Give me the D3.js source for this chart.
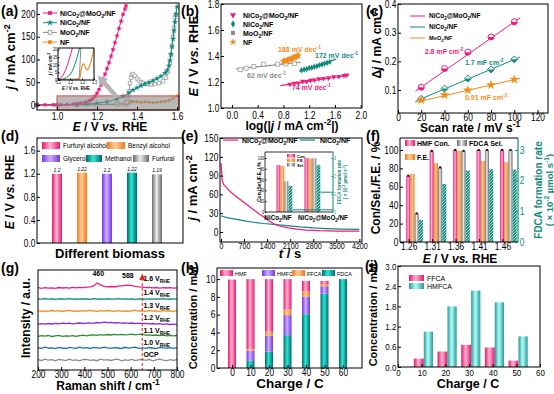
<!DOCTYPE html>
<html><head><meta charset="utf-8">
<script src="https://cdn.jsdelivr.net/npm/d3@7"></script>
<style>
body{margin:0;background:#fff}
svg{display:block;font-family:"Liberation Sans",Arial,sans-serif}
.tk{font-family:"Liberation Sans",Arial,sans-serif;font-size:10px}
</style></head><body>
<script>
// ---------- data ----------
// (a) LSV curves [E, j]
const aPink=[[0.90,0.3],[0.94,0.3],[0.98,0.4],[1.02,0.6],[1.05,1],[1.08,2],[1.10,3],[1.12,4.5],[1.14,6],[1.16,9],[1.17,11],[1.18,14],[1.19,19],[1.20,26],[1.21,34],[1.22,44],[1.23,56],[1.24,68],[1.25,80],[1.26,93],[1.27,107],[1.28,122],[1.29,137],[1.30,152],[1.31,168],[1.32,184],[1.33,199],[1.34,211],[1.345,218]]
const aTeal=[[0.90,0],[1.0,0.3],[1.1,1],[1.15,2],[1.2,4],[1.25,7],[1.3,13],[1.33,19],[1.36,27],[1.38,33],[1.40,38],[1.42,42],[1.44,46],[1.46,50],[1.48,54],[1.50,58],[1.52,63],[1.54,70],[1.55,76],[1.56,86],[1.565,98],[1.57,112],[1.575,128],[1.58,145],[1.585,163],[1.59,182],[1.595,200],[1.6,216]]
const aGrey=[[0.9,0],[1.0,0],[1.1,0.5],[1.2,1],[1.3,2],[1.34,3],[1.35,6],[1.355,14],[1.36,30],[1.365,48],[1.37,60],[1.375,66],[1.38,68],[1.39,64],[1.40,58],[1.41,54],[1.42,50],[1.43,48],[1.45,46],[1.47,45],[1.49,46],[1.51,48],[1.53,52],[1.545,60],[1.555,72],[1.565,92],[1.57,110],[1.575,130],[1.58,150],[1.585,170],[1.59,192],[1.595,198]]
const aOrange=[[0.9,0],[1.0,0],[1.2,0.5],[1.3,1],[1.35,2],[1.36,4],[1.37,7],[1.38,8],[1.40,7],[1.42,6],[1.44,7],[1.46,6],[1.48,5],[1.50,6],[1.52,7],[1.54,8],[1.56,10],[1.58,14],[1.6,20]]
const aNames=["NiCo_{2}@MoO_{2}/NF","NiCo_{2}/NF","MoO_{2}/NF","NF"]
// (a) inset
const aiPink=[[1.200,0.5],[1.204,1],[1.208,3],[1.212,6],[1.216,10],[1.219,14],[1.222,18],[1.224,21]]
const aiTeal=[[1.200,0.3],[1.208,0.6],[1.214,1.5],[1.219,3],[1.224,6],[1.228,10],[1.232,15],[1.236,21]]
const aiGrey=[[1.200,0.3],[1.23,0.6],[1.235,1],[1.236,5],[1.237,12],[1.238,21]]
const aiOrange=[[1.200,0.2],[1.235,0.3],[1.237,2],[1.238,6],[1.240,9],[1.242,10.7],[1.244,10],[1.246,8],[1.248,6.7],[1.250,7],[1.252,8.5],[1.255,12],[1.258,17],[1.26,21]]

// (b) Tafel [log j, E]
const bPink=[[0.9,1.183],[0.97,1.190],[1.03,1.193],[1.1,1.205],[1.16,1.204],[1.22,1.214],[1.28,1.216],[1.35,1.225],[1.42,1.227],[1.5,1.232],[1.58,1.24],[1.66,1.243],[1.74,1.25],[1.78,1.253]]
const bTeal=[[1.08,1.29],[1.12,1.296],[1.16,1.30],[1.2,1.308],[1.24,1.31],[1.28,1.318],[1.32,1.322],[1.36,1.33],[1.4,1.334],[1.44,1.342],[1.48,1.348],[1.52,1.355]]
const bGrey=[[0.13,1.295],[0.22,1.306],[0.34,1.319],[0.49,1.337],[0.71,1.337],[0.84,1.34],[0.97,1.342]]
const bOrange=[[0.80,1.36],[0.82,1.364],[0.84,1.362],[0.86,1.37],[0.88,1.372],[0.9,1.375],[0.92,1.38],[0.94,1.382],[0.96,1.388],[0.98,1.392],[1.0,1.396],[1.02,1.402],[1.03,1.405]]
const bFits=[[[0.75,1.172],[1.82,1.252]],[[1.04,1.283],[1.62,1.376]],[[0.06,1.3],[1.07,1.352]],[[0.78,1.355],[1.05,1.406]]]
const bSlopes=["74 mV dec^{-1}","172 mV dec^{-1}","62 mV dec^{-1}","188 mV dec^{-1}"]
const bSlopePos=[[0.93,1.138],[1.29,1.385],[0.234,1.231],[0.715,1.431]]

// (c) Cdl
const cScan=[20,40,60,80,100]
const cPink=[0.11,0.175,0.232,0.285,0.338]
const cTeal=[0.07,0.105,0.14,0.172,0.207]
const cOrange=[0.065,0.083,0.10,0.118,0.137]
const cFits=[[[15,0.096],[105,0.352]],[[15,0.061],[105,0.215]],[[15,0.057],[105,0.141]]]
const cCdl=["2.8 mF cm^{-2}","1.7 mF cm^{-2}","0.91 mF cm^{-2}"]
const cCdlPos=[[23,0.226],[57.6,0.187],[57.6,0.065]]

// (d) biomass
const dNames=["Furfuryl alcohol","Benzyl alcohol","Glycerol","Methanol","Furfural"]
const dVals=[1.2,1.22,1.2,1.22,1.19]
const dLabels=["1.2","1.22","1.2","1.22","1.19"]

// (e) i-t
const ePink=[[0,110],[15,100],[40,82],[80,76],[150,72],[250,66],[400,59],[550,53],[700,47],[850,41],[1000,35],[1150,29],[1300,24],[1450,18],[1600,13],[1750,10],[1900,8],[2100,6],[2300,4.5],[2600,3],[3000,2],[3500,1.5],[4200,1.2]]
const eTeal=[[0,26],[100,24],[250,22],[400,21],[600,19],[800,17],[1000,15.5],[1300,13.5],[1600,12],[2000,10],[2400,8],[2800,6.5],[3200,5.5],[3700,4.5],[4200,4]]
const eCats=["NiCo_{2}/NF","NiCo_{2}@MoO_{2}/NF"]
const eCon=[87,100], eFE=[85,99], eSel=[57,99.5], eRate=[1.45,2.6]

// (f) potentials
const fCats=["1.26","1.31","1.36","1.41","1.46"]
const fCon=[72,99,100,100,100]
const fFE=[74,86,99,88,87]
const fSel=[31,81,99,100,100]
const fRate=[0.72,1.89,2.33,2.37,2.36]

// (g) Raman
const gX=[200,215,230,245,260,275,290,305,320,335,350,365,380,395,410,425,440,455,470,485,500,515,530,545,560,575,590,605,620,635,650,665,680,695,710,725,740,755,770,785,800]
const gOCP=[10.3,9.5,10.8,9.8,10.4,9.1,10.6,10.1,9.4,10.9,9.7,10.2,9.2,10.5,10.7,9.6,10.1,9.3,10.9,9.8,10.4,9.5,10.3,10.8,9.1,10.2,9.7,10.6,9.4,10.1,10.7,9.6,10.5,9.2,10.2,10.9,9.9,9.4,10.4,9.7,10.5]
const g10=[22.4,21.6,22.9,21.9,22.2,21.4,22.7,22.0,21.5,22.6,22.1,21.7,22.8,21.9,22.3,21.5,22.6,22.2,21.8,22.9,22.1,21.6,22.4,22.0,21.5,22.7,21.9,22.3,22.8,21.7,22.2,21.6,22.5,22.0,21.4,22.6,22.1,21.8,22.4,21.7,22.3]
const g11=[33.6,34.3,33.8,34.5,33.5,34.1,34.6,33.7,34.2,33.9,34.4,33.6,34.3,34.8,34.1,34.9,35.2,34.6,35.4,34.9,35.5,35.0,35.6,35.1,35.7,35.2,35.4,35.9,35.1,35.6,35.8,34.9,35.2,34.6,35.0,34.4,34.8,34.2,34.7,34.1,34.5]
const g12=[45.6,46.3,45.8,46.5,46.0,46.7,46.2,46.9,46.4,46.8,46.1,46.6,47.0,46.5,46.9,47.2,46.7,47.5,47.1,47.8,47.3,47.6,47.0,47.4,46.8,47.2,46.6,47.0,46.4,46.9,46.3,46.7,46.1,46.5,45.9,46.3,45.7,46.1,45.5,45.9,45.4]
const g13=[59.4,58.7,59.2,58.6,59.5,58.9,59.3,58.5,59.1,59.6,58.8,59.2,58.6,59.4,58.9,59.7,59.0,58.7,59.3,58.8,59.5,59.1,58.6,59.4,58.9,59.2,58.5,59.3,59.7,58.8,59.1,58.6,59.5,58.9,59.2,58.7,59.4,58.8,59.1,58.6,59.3]
const g14=[71.2,70.8,71.3,70.9,71.1,70.7,71.2,71.0,70.8,71.3,70.9,71.1,70.8,71.2,71.0,70.7,71.3,70.9,71.1,70.8,71.2,71.0,70.9,71.3,70.8,71.1,70.9,71.2,70.7,71.1,71.0,70.8,71.2,70.9,71.1,70.8,71.3,70.9,71.0,70.8,71.1]
const g16=[82.3,81.7,82.4,81.9,82.2,81.6,82.5,82.0,82.4,81.8,82.6,82.2,82.7,82.3,82.9,83.2,84.0,87.0,85.2,83.6,83.1,83.5,83.0,83.8,84.2,84.6,84.9,84.3,83.7,83.2,82.8,82.4,82.7,82.1,82.5,81.9,82.4,82.0,82.3,81.8,82.2]
const gLabels=["1.6 V_{RHE}","1.4 V_{RHE}","1.3 V_{RHE}","1.2 V_{RHE}","1.1 V_{RHE}","1.0 V_{RHE}","OCP"]
const gLabelPos=[89,75,62,50,37,25,13]

// (h) product distribution
const hCharge=[0,10,20,30,40,50,60]
const hFDCA=[0,0.8,1.85,3.7,6.05,8.35,10]
const hHMFCA=[0,1.15,1.8,2.25,2.0,0.85,0]
const hFFCA=[0,0.2,0.45,0.65,0.57,0.25,0]
const hHMF=[9.95,7.85,5.9,3.4,1.18,0.35,0]

// (i) intermediates
const iCharge=[10,20,30,40,50]
const iFFCA=[0.25,0.46,0.66,0.58,0.19]
const iHMFCA=[1.05,1.8,2.27,1.92,0.91]

// ---------- helpers ----------
const PINK="#f2197f",TEAL="#138a80",GREY="#8c8c8c",ORANGE="#f28c1c"
const svg=d3.select("body").append("svg").attr("width",554).attr("height",394)
const defs=svg.append("defs")

function grad(id,edge,mid){
const g=defs.append("linearGradient").attr("id",id).attr("x1","0%").attr("x2","100%")
g.append("stop").attr("offset","0%").attr("stop-color",edge)
g.append("stop").attr("offset","45%").attr("stop-color",mid)
g.append("stop").attr("offset","100%").attr("stop-color",edge)
}
grad("gPink","#e2196e","#ffb3d3")
grad("gOrange","#f07a20","#ffcf98")
grad("gPurple","#7436e0","#cdb0ff")
grad("gTeal","#006a68","#2ee6d6")
grad("gGrey","#6a6a6a","#ececec")
grad("gCyan","#2a9a98","#b0fff8")
const hp=defs.append("pattern").attr("id","hatch").attr("patternUnits","userSpaceOnUse").attr("width",3).attr("height",3)
hp.append("rect").attr("width",3).attr("height",3).attr("fill","#12907f")
hp.append("path").attr("d","M0,3L3,0M-1,1L1,-1M2,4L4,2").attr("stroke","#e8fffc").attr("stroke-width",0.7)

function clip(id,x,y){
defs.append("clipPath").attr("id",id).append("rect")
.attr("x",x.range()[0]).attr("y",y.range()[1])
.attr("width",x.range()[1]-x.range()[0]).attr("height",y.range()[0]-y.range()[1])
}

function rich(sel,str,fs){
const parts=str.split(/(_\{[^}]*\}|\^\{[^}]*\}|\*[^*]*\*)/).filter(s=>s.length)
let shift=0
parts.forEach(p=>{
let t=p,want=0,small=false,it=false
if(p.startsWith("_{")){t=p.slice(2,-1);want=0.3*fs;small=true}
else if(p.startsWith("^{")){t=p.slice(2,-1);want=-0.4*fs;small=true}
else if(p.length>1&&p[0]=="*"&&p[p.length-1]=="*"){t=p.slice(1,-1);it=true}
const ts=sel.append("tspan").text(t)
if(want!=shift)ts.attr("dy",want-shift)
shift=want
if(small)ts.attr("font-size",fs*0.7)
if(it)ts.attr("font-style","italic")
})
}

function txt(x,y,str,o){
o=o||{}
const fs=o.fs||12
const t=svg.append("text").attr("x",x).attr("y",y)
.style("font-size",fs+"px").attr("font-weight",o.w||"bold")
.attr("fill",o.c||"#000").attr("text-anchor",o.a||"start")
if(o.rot)t.attr("transform","rotate(-90,"+x+","+y+")")
if(o.it)t.attr("font-style","italic")
rich(t,str,fs)
return t
}

function box(x,y,col){
svg.append("rect").attr("x",x.range()[0]).attr("y",y.range()[1])
.attr("width",x.range()[1]-x.range()[0]).attr("height",y.range()[0]-y.range()[1])
.attr("fill","none").attr("stroke",col||"#000").attr("stroke-width",1)
}

// ticks point inward like the source; tick labels are tall and narrow
function narrow(g,fs){
g.selectAll("text").attr("transform","scale(0.84,1)")
if(fs)g.selectAll("text").style("font-size",fs+"px")
}
function axB(x,yPix,vals,fmt,fs,pad,ts){
const g=svg.append("g").attr("class","tk").attr("transform","translate(0,"+yPix+")")
.call(d3.axisBottom(x).tickValues(vals).tickFormat(fmt).tickSize(-(ts||3)).tickPadding(pad==null?2:pad))
g.select(".domain").remove()
narrow(g,fs)
return g
}
function axL(y,xPix,vals,fmt,fs,pad,ts){
const g=svg.append("g").attr("class","tk").attr("transform","translate("+xPix+",0)")
.call(d3.axisLeft(y).tickValues(vals).tickFormat(fmt).tickSize(-(ts||3)).tickPadding(pad==null?2:pad))
g.select(".domain").remove()
narrow(g,fs)
return g
}
function axR(y,xPix,vals,fmt,fs,col,pad,ts){
const g=svg.append("g").attr("class","tk").attr("transform","translate("+xPix+",0)")
.call(d3.axisRight(y).tickValues(vals).tickFormat(fmt).tickSize(-(ts||3)).tickPadding(pad==null?2:pad))
g.select(".domain").remove()
narrow(g,fs)
if(col){g.selectAll("text").attr("fill",col);g.selectAll("line").attr("stroke",col)}
return g
}

function line(x,y,data,col,w,cp){
const p=svg.append("path").datum(data).attr("fill","none").attr("stroke",col).attr("stroke-width",w||1)
.attr("d",d3.line().x(d=>x(d[0])).y(d=>y(d[1])))
if(cp)p.attr("clip-path","url(#"+cp+")")
return p
}
function pts(x,y,data,col,type,size,open,rot){
svg.append("g").selectAll("path").data(data).join("path")
.attr("transform",d=>"translate("+x(d[0])+","+y(d[1])+")"+(rot?" rotate("+rot+")":""))
.attr("d",d3.symbol().type(type).size(size))
.attr("fill",open?"#fff":col).attr("stroke",col).attr("stroke-width",open?0.7:0)
}

// ---------- (a) ----------
const xa=d3.scaleLinear().domain([0.9,1.61]).range([37,179])
const ya=d3.scaleLinear().domain([-11,224]).range([110,3])
clip("ca",xa,ya)
line(xa,ya,aOrange,ORANGE,1,"ca");pts(xa,ya,aOrange,ORANGE,d3.symbolSquare,7)
line(xa,ya,aGrey,GREY,1,"ca");pts(xa,ya,aGrey,GREY,d3.symbolSquare,12,true)
line(xa,ya,aTeal,TEAL,1,"ca");pts(xa,ya,aTeal,TEAL,d3.symbolStar,12)
line(xa,ya,aPink,PINK,1,"ca");pts(xa,ya,aPink,PINK,d3.symbolSquare,10)
svg.append("rect").attr("x",xa(1.0)).attr("y",ya(20)).attr("width",xa(1.61)-xa(1.0)).attr("height",ya(-11)-ya(20))
.attr("fill","#8a8a8a").attr("fill-opacity",0.6).attr("stroke","#e04848").attr("stroke-width",1)
// arrow to inset
{
const x1=xa(1.30),y1=ya(17),x2=xa(1.205),y2=ya(64)
const ang=Math.atan2(y2-y1,x2-x1)*180/Math.PI
const L=Math.hypot(x2-x1,y2-y1)
svg.append("path").attr("transform","translate("+x1+","+y1+") rotate("+ang+")")
.attr("d","M0,-2.2L"+(L-9)+",-2.2L"+(L-9)+",-5.5L"+L+",0L"+(L-9)+",5.5L"+(L-9)+",2.2L0,2.2Z")
.attr("fill","#b4b4b4")
}
box(xa,ya)
axB(xa,110,[1.0,1.2,1.4,1.6],d3.format(".1f"),10,3)
axL(ya,37,[0,50,100,150,200],d3.format("d"))
aNames.forEach((n,i)=>{
const cy=13+i*9.7,cols=[PINK,TEAL,GREY,ORANGE]
svg.append("line").attr("x1",43).attr("x2",57).attr("y1",cy).attr("y2",cy).attr("stroke",cols[i])
const ty=[d3.symbolSquare,d3.symbolStar,d3.symbolSquare,d3.symbolSquare][i]
svg.append("path").attr("transform","translate(50,"+cy+")").attr("d",d3.symbol().type(ty).size(14))
.attr("fill",i==2?"#fff":cols[i]).attr("stroke",cols[i]).attr("stroke-width",i==2?0.8:0)
txt(60,cy+2.5,n,{fs:7})
})
// inset
const xai=d3.scaleLinear().domain([1.2,1.26]).range([58,94])
const yai=d3.scaleLinear().domain([0,21]).range([80,48])
svg.append("rect").attr("x",58).attr("y",48).attr("width",36).attr("height",32).attr("fill","#fff")
clip("cai",xai,yai)
line(xai,yai,aiGrey,GREY,1,"cai")
line(xai,yai,aiOrange,ORANGE,1.1,"cai")
line(xai,yai,aiTeal,TEAL,1,"cai")
line(xai,yai,aiPink,PINK,1,"cai")
box(xai,yai)
axB(xai,80,[1.2,1.22,1.24,1.26],d3.format(".1f"),4.5,1,1.5)
axL(yai,58,[0,5,10,15,20],d3.format("d"),4.5,1,1.5)
txt(76,90,"*E* / V *vs.* RHE",{fs:4.5,a:"middle"})
txt(52,64,"*j* / mA cm^{-2}",{fs:4.5,a:"middle",rot:true})
txt(1,16,"(a)",{fs:14})
txt(110,131,"*E* / V *vs.* RHE",{fs:12,a:"middle"})
txt(15,57,"*j* / mA cm^{-2}",{fs:13,a:"middle",rot:true})

// ---------- (b) ----------
const xb=d3.scaleLinear().domain([-0.17,2.02]).range([221,362])
const yb=d3.scaleLinear().domain([1.0,1.8]).range([108,4])
const bCols=[PINK,TEAL,GREY,ORANGE]
bFits.forEach((f,i)=>line(xb,yb,f,bCols[i],1.2))
pts(xb,yb,bGrey,GREY,d3.symbolSquare,16,true)
pts(xb,yb,bOrange,ORANGE,d3.symbolStar,18)
pts(xb,yb,bTeal,TEAL,d3.symbolDiamond,12)
pts(xb,yb,bPink,PINK,d3.symbolTriangle,12,false,180)
bSlopes.forEach((s,i)=>txt(xb(bSlopePos[i][0]),yb(bSlopePos[i][1]),s,{fs:7,c:bCols[i]}))
box(xb,yb)
axB(xb,108,[0,0.4,0.8,1.2,1.6,2.0],d3.format(".1f"),10,4)
axL(yb,221,[1.0,1.2,1.4,1.6,1.8],d3.format(".1f"))
aNames.forEach((n,i)=>{
const cy=15+i*9
const ty=[d3.symbolTriangle,d3.symbolDiamond,d3.symbolSquare,d3.symbolStar][i]
svg.append("path").attr("transform","translate(233,"+cy+")"+(i==0?" rotate(180)":""))
.attr("d",d3.symbol().type(ty).size(16)).attr("fill",bCols[i])
txt(243,cy+2.5,n,{fs:7})
})
txt(181,16,"(b)",{fs:14})
txt(292,130,"log(|*j* / mA cm^{-2}|)",{fs:12,a:"middle"})
txt(198,56,"*E* / V *vs.* RHE",{fs:13,a:"middle",rot:true})

// ---------- (c) ----------
const xc=d3.scaleLinear().domain([0,129]).range([398,548])
const yc=d3.scaleLinear().domain([0.02,0.4]).range([113,4])
const cCols=[PINK,TEAL,ORANGE]
cFits.forEach((f,i)=>line(xc,yc,f,cCols[i],1))
;[cPink,cTeal].forEach((arr,k)=>{
const col=cCols[k]
const g=svg.append("g").selectAll("g").data(cScan.map((s,i)=>[s,arr[i]])).join("g")
.attr("transform",d=>"translate("+xc(d[0])+","+yc(d[1])+")")
if(k==0){
g.append("circle").attr("r",3).attr("fill","#fff").attr("stroke",col).attr("stroke-width",1)
g.append("path").attr("d","M-3,0A3,3 0 0 0 3,0Z").attr("fill",col)
}else{
g.append("path").attr("d","M-3.5,0L0,-3.5L3.5,0L0,3.5Z").attr("fill","#fff").attr("stroke",col).attr("stroke-width",1)
g.append("path").attr("d","M-3.5,0L0,3.5L3.5,0Z").attr("fill",col)
}
})
pts(xc,yc,cScan.map((s,i)=>[s,cOrange[i]]),ORANGE,d3.symbolStar,30)
cCdl.forEach((s,i)=>txt(xc(cCdlPos[i][0]),yc(cCdlPos[i][1]),s,{fs:7,c:cCols[i]}))
box(xc,yc)
axB(xc,113,[0,20,40,60,80,100,120],d3.format("d"),10,1)
axL(yc,398,[0.1,0.2,0.3,0.4],d3.format(".1f"))
aNames.slice(0,3).forEach((n,i)=>{
const cy=16+i*11
svg.append("line").attr("x1",410).attr("x2",425).attr("y1",cy).attr("y2",cy).attr("stroke",cCols[i])
txt(429,cy+2.3,n,{fs:i==2?5.5:6.5})
})
txt(366,16,"(c)",{fs:14})
txt(470,132,"Scan rate / mV s^{-1}",{fs:12,a:"middle"})
txt(381,44,"Δ*j* / mA cm^{-2}",{fs:12,a:"middle",rot:true})

// ---------- (d) ----------
const xd=d3.scalePoint().domain(dNames).range([57,157])
const yd=d3.scaleLinear().domain([0,1.82]).range([243,138])
const dFill=["url(#gPink)","url(#gOrange)","url(#gPurple)","url(#gTeal)","url(#gGrey)"]
svg.append("g").selectAll("rect").data(dNames).join("rect")
.attr("x",d=>xd(d)-5).attr("width",10)
.attr("y",(d,i)=>yd(dVals[i])).attr("height",(d,i)=>yd(0)-yd(dVals[i]))
.attr("fill",(d,i)=>dFill[i])
svg.append("g").selectAll("text").data(dNames).join("text")
.attr("x",d=>xd(d)).attr("y",(d,i)=>yd(dVals[i])-2).attr("text-anchor","middle")
.style("font-size","5px").attr("font-style","italic").text((d,i)=>dLabels[i])
box(d3.scaleLinear().range([37,183]),yd)
axL(yd,37,[0,0.4,0.8,1.2,1.6],d3.format(".1f"))
{
const leg=[[42,0],[107,0],[42,1],[86,1],[133,1]]
dNames.forEach((n,i)=>{
const lx=leg[i][0],ly=142+leg[i][1]*13
svg.append("rect").attr("x",lx).attr("y",ly).attr("width",i>2?16:18).attr("height",7).attr("fill",dFill[i])
txt(lx+(i>2?19:21),ly+6,n,{fs:6.5,w:"normal"})
})
}
txt(1,141,"(d)",{fs:14})
txt(110,258,"Different biomass",{fs:13,a:"middle"})
txt(14,192,"*E* / V *vs.* RHE",{fs:12,a:"middle",rot:true})

// ---------- (e) ----------
const xe=d3.scaleLinear().domain([-30,4280]).range([220,362])
const ye=d3.scaleLinear().domain([-16,150]).range([242,138])
clip("ce",xe,ye)
line(xe,ye,eTeal,TEAL,1.2,"ce")
line(xe,ye,ePink,PINK,1.2,"ce")
box(xe,ye)
axB(xe,242,[0,700,1400,2100,2800,3500,4200],d3.format("d"),8.5,1)
axL(ye,220,[0,30,60,90,120,150],d3.format("d"))
svg.append("line").attr("x1",223).attr("x2",238).attr("y1",140).attr("y2",140).attr("stroke",PINK).attr("stroke-width",1.2)
txt(242,142.5,aNames[0],{fs:7})
svg.append("line").attr("x1",300).attr("x2",315).attr("y1",140).attr("y2",140).attr("stroke",TEAL).attr("stroke-width",1.2)
txt(320,142.5,aNames[1],{fs:7})
// inset
{
const xi=d3.scalePoint().domain(eCats).range([284.5,312.5])
const yi=d3.scaleLinear().domain([0,111]).range([212,152])
const yr=d3.scaleLinear().domain([0,3]).range([212,158])
svg.append("rect").attr("x",265).attr("y",152).attr("width",68).attr("height",60).attr("fill","#fff")
const ser=[[eCon,"url(#gPink)",-6,yi],[eFE,"url(#gOrange)",-2,yi],[eSel,"url(#gGrey)",2,yi],[eRate,"url(#hatch)",6,yr]]
ser.forEach(s=>{
svg.append("g").selectAll("rect").data(eCats).join("rect")
.attr("x",d=>xi(d)+s[2]-2).attr("width",3.8)
.attr("y",(d,i)=>s[3](s[0][i])).attr("height",(d,i)=>s[3](0)-s[3](s[0][i]))
.attr("fill",s[1])
})
svg.append("line").attr("x1",xi(eCats[1])+8).attr("x2",333).attr("y1",yr(1.1)).attr("y2",yr(1.1)).attr("stroke",TEAL)
svg.append("line").attr("x1",xi(eCats[0])+8).attr("x2",333).attr("y1",yr(0.12)).attr("y2",yr(0.12)).attr("stroke",TEAL)
svg.append("path").attr("d","M265,152H333").attr("stroke","#000").attr("stroke-width",0.8)
svg.append("path").attr("d","M265,152V212H333").attr("fill","none").attr("stroke","#000").attr("stroke-width",0.8)
svg.append("line").attr("x1",333).attr("x2",333).attr("y1",152).attr("y2",212).attr("stroke",TEAL).attr("stroke-width",1)
axL(yi,265,[0,20,40,60,80,100],d3.format("d"),4.5,1,1.5)
axR(yr,333,[0,1,2,3],d3.format("d"),4.5,TEAL,1,1.5)
const lg=[["Con.","url(#gPink)"],["F.E.","url(#gOrange)"],["Sel.","url(#gGrey)"]]
lg.forEach((l,i)=>{
svg.append("rect").attr("x",287).attr("y",154+i*4.5).attr("width",8).attr("height",3.5).attr("fill",l[1])
txt(297,157.5+i*4.5,l[0],{fs:4})
})
txt(278,220,eCats[0],{fs:6.3,a:"middle"})
txt(323,220,eCats[1],{fs:6.3,a:"middle"})
txt(261,182,"Con./Sel./F.E. / %",{fs:5,a:"middle",rot:true})
txt(341,182,"FDCA formation rate",{fs:4.5,a:"middle",rot:true,c:TEAL})
txt(347,182,"( × 10^{-2} µmol s^{-1})",{fs:4.5,a:"middle",rot:true,c:TEAL})
}
txt(181,141,"(e)",{fs:14})
txt(290,258,"*t* / s",{fs:13,a:"middle"})
txt(197,188,"*j* / mA cm^{-2}",{fs:13,a:"middle",rot:true})

// ---------- (f) ----------
{
const xf=d3.scalePoint().domain(fCats).range([408.7,502.5])
const yf=d3.scaleLinear().domain([0,113]).range([242,138])
const yfr=d3.scaleLinear().domain([0,3.39]).range([242,138])
const ser=[[fCon,"url(#gPink)",-2.5,yf],[fFE,"url(#gOrange)",1.7,yf],[fSel,"url(#gGrey)",5.9,yf],[fRate,"url(#hatch)",10.1,yfr]]
ser.forEach(s=>{
svg.append("g").selectAll("rect").data(fCats).join("rect")
.attr("x",d=>xf(d)+s[2]).attr("width",4.1)
.attr("y",(d,i)=>s[3](s[0][i])).attr("height",(d,i)=>s[3](0)-s[3](s[0][i]))
.attr("fill",s[1])
})
;[[fCon,-2.5],[fSel,5.9]].forEach(s=>{
svg.append("g").selectAll("rect").data(fCats).join("rect")
.attr("x",d=>xf(d)+s[1]+1).attr("width",2.2)
.attr("y",(d,i)=>yf(s[0][i])-1).attr("height",2).attr("fill","#111")
})
svg.append("path").attr("d","M518,138H400V242H518").attr("fill","none").attr("stroke","#000")
svg.append("line").attr("x1",518).attr("x2",518).attr("y1",138).attr("y2",242).attr("stroke",TEAL).attr("stroke-width",1.2)
axB(xf,242,fCats,d=>d,10,1)
axL(yf,400,[0,20,40,60,80,100],d3.format("d"))
axR(yfr,518,[0,1,2,3],d3.format("d"),10,TEAL)
svg.append("rect").attr("x",405).attr("y",140).attr("width",10).attr("height",6).attr("fill","url(#gPink)")
txt(417,145.5,"HMF Con.",{fs:7})
svg.append("rect").attr("x",457).attr("y",140).attr("width",10).attr("height",6).attr("fill","url(#gGrey)")
txt(469,145.5,"FDCA Sel.",{fs:7})
svg.append("rect").attr("x",405).attr("y",154).attr("width",10).attr("height",6).attr("fill","url(#gOrange)")
txt(417,159.5,"F.E.",{fs:7})
}
txt(366,141,"(f)",{fs:14})
txt(460,263,"*E* / V *vs.* RHE",{fs:12,a:"middle"})
txt(380,188,"Con/Sel./F.E. / %",{fs:12,a:"middle",rot:true})
txt(542,190,"FDCA formation rate",{fs:10,a:"middle",rot:true,c:TEAL})
txt(553,190,"( × 10^{-2} µmol s^{-1})",{fs:9.5,a:"middle",rot:true,c:TEAL})

// ---------- (g) ----------
{
const xg=d3.scaleLinear().domain([200,800]).range([38,177])
const yg=d3.scaleLinear().domain([0,100]).range([370,270])
const spec=[g16,g14,g13,g12,g11,g10,gOCP]
const gCols=[PINK,TEAL,ORANGE,"#8a2be2","#2e8b2e","#1f6fb0",GREY]
spec.forEach((s,k)=>line(xg,yg,gX.map((x,i)=>[x,s[i]]),gCols[k],1.3))
svg.append("line").attr("x1",xg(650)).attr("x2",xg(650)).attr("y1",yg(92)).attr("y2",yg(0))
.attr("stroke","#e82020").attr("stroke-width",1).attr("stroke-dasharray","3,2")
svg.append("path").attr("transform","translate("+xg(650)+","+yg(93)+")").attr("d","M0,-3.5L3,3L-3,3Z").attr("fill","#e82020")
gLabels.forEach((l,i)=>txt(xg(655),yg(gLabelPos[i]),l,{fs:7}))
txt(xg(460),yg(94),"460",{fs:7,a:"middle"})
txt(xg(588),yg(92),"588",{fs:7,a:"middle"})
box(xg,yg)
axB(xg,370,[200,300,400,500,600,700,800],d3.format("d"),10,1)
}
txt(1,273,"(g)",{fs:14})
txt(108,390,"Raman shift / cm^{-1}",{fs:12,a:"middle"})
txt(30,318,"Intensity / a.u.",{fs:12,a:"middle",rot:true})

// ---------- (h) ----------
{
const xh=d3.scalePoint().domain(hCharge).range([232,343])
const yh=d3.scaleLinear().domain([0,11.25]).range([368,268])
const rows=hCharge.map((c,i)=>({c:c,FDCA:hFDCA[i],HMFCA:hHMFCA[i],FFCA:hFFCA[i],HMF:hHMF[i]}))
const keys=["FDCA","HMFCA","FFCA","HMF"]
const fills={FDCA:"url(#gTeal)",HMFCA:"url(#gPurple)",FFCA:"url(#gOrange)",HMF:"url(#gPink)"}
const st=d3.stack().keys(keys)(rows)
svg.append("g").selectAll("g").data(st).join("g").attr("fill",d=>fills[d.key])
.selectAll("rect").data(d=>d).join("rect")
.attr("x",d=>xh(d.data.c)-4).attr("width",8)
.attr("y",d=>yh(d[1])).attr("height",d=>yh(d[0])-yh(d[1]))
box(d3.scaleLinear().range([217,362]),yh)
axB(xh,368,hCharge,d3.format("d"),10,1)
axL(yh,217,[0,2,4,6,8,10],d3.format("d"))
const lg=[["HMF",220,"HMF"],["HMFCA",262,"HMFCA"],["FFCA",292,"FFCA"],["FDCA",322,"FDCA"]]
lg.forEach(l=>{
svg.append("rect").attr("x",l[1]).attr("y",270).attr("width",13).attr("height",6).attr("fill",fills[l[0]])
txt(l[1]+15,275.5,l[2],{fs:5.5,w:"normal"})
})
}
txt(181,273,"(h)",{fs:14})
txt(290,388,"Charge / C",{fs:13.5,a:"middle"})
txt(197,318,"Concentration / mM",{fs:11,a:"middle",rot:true})

// ---------- (i) ----------
{
const xi=d3.scaleLinear().domain([0,60]).range([398,540])
const yi=d3.scaleLinear().domain([0,3]).range([367,266])
svg.append("g").selectAll("rect").data(iCharge).join("rect")
.attr("x",d=>xi(d-3.3)).attr("width",d=>xi(d+0.9)-xi(d-3.3))
.attr("y",(d,i)=>yi(iFFCA[i])).attr("height",(d,i)=>yi(0)-yi(iFFCA[i])).attr("fill","url(#gPink)")
svg.append("g").selectAll("rect").data(iCharge).join("rect")
.attr("x",d=>xi(d+0.9)).attr("width",d=>xi(d+4.8)-xi(d+0.9))
.attr("y",(d,i)=>yi(iHMFCA[i])).attr("height",(d,i)=>yi(0)-yi(iHMFCA[i])).attr("fill","url(#gCyan)")
box(xi,yi)
axB(xi,367,[0,10,20,30,40,50,60],d3.format("d"),9.5,2)
axL(yi,398,[0,0.6,1.2,1.8,2.4,3.0],d3.format(".1f"),9.5)
svg.append("rect").attr("x",409).attr("y",275).attr("width",15).attr("height",6).attr("fill","url(#gPink)")
txt(427,281,"FFCA",{fs:7,w:"normal"})
svg.append("rect").attr("x",409).attr("y",283).attr("width",15).attr("height",6).attr("fill","url(#gCyan)")
txt(427,289,"HMFCA",{fs:7,w:"normal"})
}
txt(365,271,"(i)",{fs:14})
txt(468,388,"Charge / C",{fs:12.5,a:"middle"})
txt(377,315,"Concentration / mM",{fs:11,a:"middle",rot:true})
</script>
</body></html>
